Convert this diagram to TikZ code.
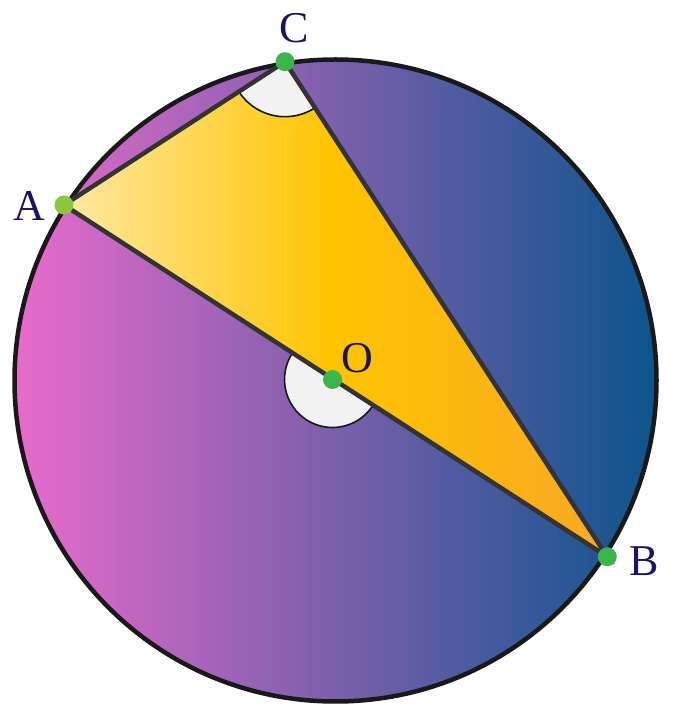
\documentclass[tikz,border=0pt]{standalone}
\usepackage{fontspec}
\setmainfont{Liberation Serif}
\usetikzlibrary{angles}
\definecolor{pinkL}{HTML}{E86BCB}
\definecolor{blueR}{HTML}{0C548C}
\definecolor{creamL}{HTML}{FFE8A2}
\definecolor{goldM}{HTML}{FFC400}
\definecolor{orangeR}{HTML}{F7A823}
\definecolor{sectorgrey}{HTML}{F2F2F2}
\definecolor{edgegrey}{HTML}{333333}
\definecolor{greenA}{HTML}{8DC63F}
\definecolor{greenB}{HTML}{3CB54A}
\definecolor{labelnavy}{HTML}{1B1464}
\tikzset{
  rimline/.style={draw=black!90, line width=4.5pt},
  edgeline/.style={draw=edgegrey, line width=4.5pt},
  sector/.style={fill=sectorgrey, draw=black!90, line width=1.6pt},
  dot/.style={circle, inner sep=0pt, minimum size=19pt},
  lbl/.style={inner sep=0pt, text=labelnavy, font=\fontsize{44}{44}\selectfont},
}
\begin{document}
\begin{tikzpicture}[x=1pt,y=1pt]
\useasboundingbox (0,0) rectangle (674,718);
\coordinate (Z) at (335.5,337.5);
\coordinate (A) at (64,513);
\coordinate (C) at (285,656.3);
\coordinate (B) at (607.3,161.3);
\coordinate (O) at (332.5,338.5);
\shade[left color=pinkL, right color=blueR] (Z) circle[radius=321];
\shade[left color=creamL, right color=orangeR, middle color=goldM] (A) -- (C) -- (B) -- cycle;
\pic[sector, angle radius=55pt] {angle=A--C--B};
\pic[sector, angle radius=48pt] {angle=A--O--B};
\draw[rimline] (Z) circle[radius=321];
\draw[edgeline] (A) -- (C) -- (B) -- cycle;
\node[dot, fill=greenA] (a) at (A) {};
\node[dot, fill=greenB] (c) at (C) {};
\node[dot, fill=greenB] (b) at (B) {};
\node[dot, fill=greenB] (o) at (O) {};
\node[lbl] (la) at (29.5,512) {A};
\node[lbl] (lc) at (294,690) {C};
\node[lbl] (lo) at (357.5,360) {O};
\node[lbl] (lb) at (644,157) {B};
\end{tikzpicture}
\end{document}
